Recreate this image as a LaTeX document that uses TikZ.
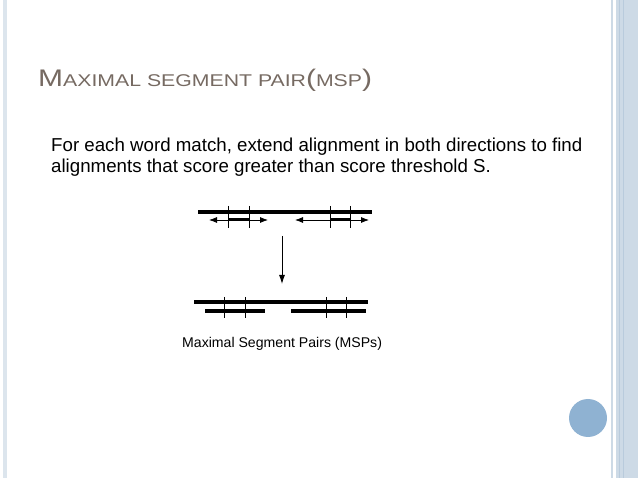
\documentclass[tikz,border=0pt]{standalone}
\usepackage{fontspec}
\setmainfont{Liberation Sans}
\newfontfamily\titlefont[FakeStretch=1.25]{Liberation Sans}
\usetikzlibrary{arrows.meta}
\definecolor{framecol}{RGB}{205,218,230}
\definecolor{framedark}{RGB}{185,203,220}
\definecolor{dotcol}{RGB}{143,178,210}
\definecolor{titlecol}{RGB}{118,106,98}

\begin{document}
\begin{tikzpicture}[x=1pt,y=-1pt,
  seq/.style={line width=3.6pt},
  hit/.style={line width=0.9pt},
  ext/.style={line width=0.8pt,{Latex[length=8pt,width=6pt]}-{Latex[length=8pt,width=6pt]}},
  txt/.style={anchor=base west,inner sep=0pt}]
\useasboundingbox (0,0) rectangle (638,478);

% frame
\fill[framecol!70] (3,0) rectangle (7,478);
\fill[framecol] (611,0) rectangle (613,478);
\fill[framecol] (616,0) rectangle (638,478);
\draw[framedark,line width=0.8pt] (619,0) -- (619,478);
\draw[framedark,line width=0.8pt] (623,0) -- (623,478);
\fill[dotcol] (588,418) circle (19);

% title
\node[txt,text=titlecol,font=\titlefont] (title) at (38,87)
  {\fontsize{24}{28}\selectfont M\fontsize{17}{20}\selectfont AXIMAL SEGMENT PAIR\fontsize{24}{28}\selectfont(\fontsize{17}{20}\selectfont MSP\fontsize{24}{28}\selectfont)};

% text
\node[txt] (line1) at (51,152)
  {\fontsize{18.7}{22}\selectfont For each word match, extend alignment in both directions to find};
\node[txt] (line2) at (51,173)
  {\fontsize{18.7}{22}\selectfont alignments that score greater than score threshold S.};

% word hits, extended both ways
\draw[seq] (198,212) -- (372,212);
\draw[ext] (209,220) -- (268,220);
\draw[ext] (295,220) -- (369,220);
\draw[line width=3pt] (228,220) -- (249,220);
\draw[line width=3pt] (330,220) -- (350,220);
\foreach \x in {228,249,330,350}
  \draw[hit] (\x,206) -- (\x,228);

% step down
\coordinate (down top) at (282,236);
\coordinate (down end) at (282,284);
\draw[line width=0.9pt,-{Latex[length=9pt,width=6pt]}] (down top) -- (down end);

% resulting pairs
\draw[seq] (194,302) -- (368,302);
\draw[seq] (205,311) -- (265,311);
\draw[seq] (291,311) -- (366,311);
\foreach \x in {224,245,326,346}
  \draw[hit] (\x,297) -- (\x,318);

\node[txt] (caption) at (182,348)
  {\fontsize{14.1}{16}\selectfont Maximal Segment Pairs (MSPs)};
\end{tikzpicture}
\end{document}
